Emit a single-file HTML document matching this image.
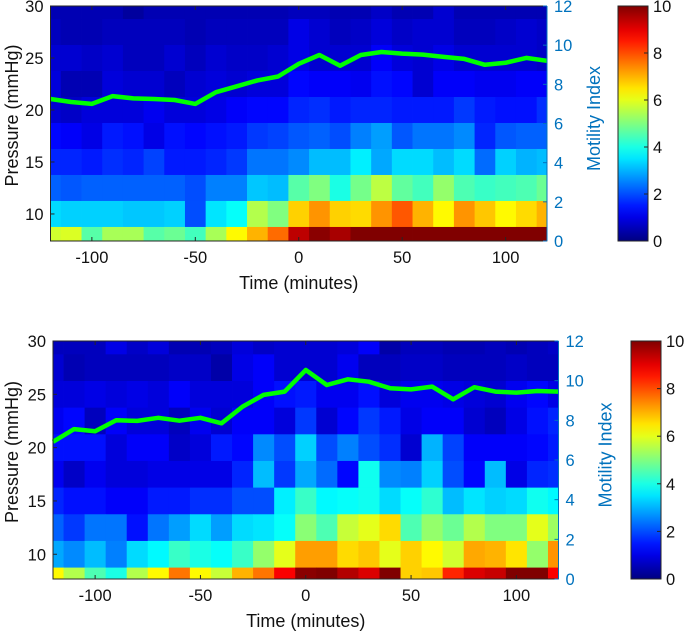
<!DOCTYPE html>
<html><head><meta charset="utf-8">
<style>
html,body{margin:0;padding:0;background:#fff;}
svg{display:block;font-family:"Liberation Sans",Arial,sans-serif;}
</style></head>
<body>
<svg id="fig" width="685" height="632" viewBox="0 0 685 632" xmlns="http://www.w3.org/2000/svg"></svg>
<script>
// ---------- shared axis data ----------
const times = [-120,-110,-100,-90,-80,-70,-60,-50,-40,-30,-20,-10,0,10,20,30,40,50,60,70,80,90,100,110,120];
const pressures = [30,27.5,25,22.5,20,17.5,15,12.5,10,7.5];
const xTickLabels = [-100,-50,0,50,100];
const yTickLabels = [10,15,20,25,30];
const rightTickLabels = [0,2,4,6,8,10,12];
const cbarTickLabels = [0,2,4,6,8,10];

// ---------- top chart data (rows: pressure 30 -> 7.5) ----------
const topRow30  = [0.5,0.5,0.5,0.5,0.3,0.5,0.5,0.5,0.5,0.5,0.5,0.5,0.6,0.6,0.5,0.5,0.7,0.5,0.5,0.8,0.5,0.5,0.5,0.5,0.5];
const topRow275 = [0.6,0.5,0.5,0.6,0.6,0.6,0.6,0.5,0.6,0.6,0.6,0.6,1.0,0.8,0.6,0.7,0.9,0.7,0.8,0.8,0.6,0.6,0.7,0.8,0.7];
const topRow25  = [0.8,0.8,0.7,0.8,0.6,0.6,0.8,0.6,0.8,0.7,0.7,0.8,1.0,0.8,0.8,0.8,1.2,0.9,0.8,1.0,0.8,0.8,0.8,0.8,0.7];
const topRow225 = [0.9,0.5,0.5,0.9,0.8,0.8,0.6,0.8,0.9,0.8,0.9,0.9,1.3,1.2,1.2,1.1,1.4,1.3,0.8,1.2,1.2,1.1,1.1,1.2,1.2];
const topRow20  = [0.8,0.7,0.9,0.9,0.9,1.1,0.9,0.9,1.0,1.2,1.3,1.3,1.6,1.7,1.5,1.6,1.6,1.5,1.5,1.5,1.8,1.5,1.4,1.4,1.7];
const topRow175 = [1.3,1.2,1.0,1.5,1.4,1.0,1.4,1.3,1.4,1.5,1.8,1.9,2.1,2.2,2.0,2.5,2.8,2.1,2.4,2.4,2.6,1.6,2.1,2.2,2.2];
const topRow15  = [1.6,1.6,1.5,1.7,1.6,1.9,1.5,1.5,1.6,1.8,2.4,2.4,2.6,3.1,3.1,3.6,2.9,3.4,3.4,3.1,3.4,2.3,3.3,3.0,3.1];
const topRow125 = [2.2,2.1,2.2,2.2,2.2,2.2,2.2,2.0,2.5,2.5,3.2,3.1,4.6,5.0,4.0,4.9,5.6,4.7,4.4,5.2,4.5,4.3,4.4,4.5,4.8];
const topRow10  = [3.4,3.3,3.3,3.3,3.2,3.2,3.3,2.0,3.5,3.8,5.5,5.0,6.7,7.3,6.7,6.6,7.3,7.9,7.0,6.3,7.3,6.8,6.3,6.6,7.0];
const topRow75  = [5.8,5.9,4.6,5.4,5.4,4.6,4.8,4.4,5.4,6.3,7.0,7.7,9.4,9.9,9.6,10,10,10,10,10,10,10,10,10,10];
const topMotility = [7.25,7.1,7.0,7.4,7.28,7.25,7.2,7.0,7.6,7.9,8.2,8.4,9.05,9.5,8.95,9.5,9.65,9.57,9.52,9.4,9.3,9.0,9.1,9.35,9.2];

// ---------- bottom chart data ----------
const botRow30  = [0.6,0.6,0.6,1.0,0.7,0.9,0.5,0.5,0.6,0.9,0.7,0.8,0.8,0.8,0.9,1.2,0.4,0.6,0.6,0.5,0.5,0.6,0.5,0.6,0.7];
const botRow275 = [0.8,0.5,0.6,0.6,0.6,0.6,0.7,0.7,0.4,1.0,1.2,0.8,0.8,0.8,1.1,0.6,0.6,0.7,0.7,0.6,0.6,0.6,0.7,0.6,0.6];
const botRow25  = [0.9,0.9,1.0,0.9,1.0,0.9,1.2,0.9,0.9,0.9,1.2,1.4,1.5,1.1,1.1,1.4,0.9,1.1,1.1,1.0,0.9,0.8,1.1,1.3,1.0];
const botRow225 = [1.1,1.3,0.6,1.2,0.9,0.9,0.6,1.1,0.8,1.2,1.2,0.9,1.8,0.8,1.3,1.8,1.5,1.0,1.2,1.2,0.8,0.6,1.0,1.4,1.6];
const botRow20  = [1.4,1.4,1.4,0.9,1.2,1.2,0.7,0.9,1.5,1.3,2.6,2.0,3.3,2.0,2.5,2.0,1.7,0.8,3.0,1.9,1.2,1.2,1.2,1.3,1.5];
const botRow175 = [1.1,0.7,1.1,0.9,0.9,1.0,1.0,1.0,1.0,1.6,3.1,1.8,2.9,2.3,1.3,3.9,2.6,2.5,3.3,2.0,1.3,3.1,1.0,1.6,1.7];
const botRow15  = [1.6,1.4,1.4,1.2,1.2,1.5,1.5,1.7,1.7,2.0,2.0,3.6,4.3,3.7,3.8,3.9,3.4,3.8,4.2,3.1,3.5,3.3,3.4,3.9,3.7];
const botRow125 = [2.2,1.8,2.4,2.4,1.4,2.4,2.8,3.4,2.8,3.4,3.5,3.8,5.1,4.5,5.7,6.0,6.6,4.5,5.2,4.8,5.5,5.0,5.0,6.0,5.3];
const botRow10  = [2.9,2.6,3.1,2.5,3.4,3.7,4.3,4.0,3.8,4.3,5.2,6.0,7.2,7.2,6.6,6.8,6.0,6.7,6.3,5.8,7.1,7.0,6.5,5.2,7.3];
const botRow75  = [6.3,5.5,4.5,4.0,5.5,6.3,7.6,6.3,5.7,7.0,7.6,8.8,9.9,10,9.5,9.1,10,6.7,6.8,8.4,9.1,9.3,10,10,8.8];
const botMotility = [6.92,7.56,7.45,8.0,7.97,8.13,7.98,8.13,7.85,8.69,9.28,9.45,10.54,9.78,10.07,9.95,9.62,9.56,9.7,9.06,9.67,9.45,9.4,9.48,9.45];

const NS = "http://www.w3.org/2000/svg";
const svg = document.getElementById('fig');
function mk(tag, attrs, parent){
  const e = document.createElementNS(NS, tag);
  for (const k in attrs) e.setAttribute(k, attrs[k]);
  (parent||svg).appendChild(e);
  return e;
}
function jet(v){
  let t = Math.max(0, Math.min(1, v/10));
  const f = x => Math.max(0, Math.min(1, x));
  const r = f(Math.min(4*t-1.5, -4*t+4.5));
  const g = f(Math.min(4*t-0.5, -4*t+3.5));
  const b = f(Math.min(4*t+0.5, -4*t+2.5));
  return `rgb(${Math.round(r*255)},${Math.round(g*255)},${Math.round(b*255)})`;
}
const BLUE = '#0072BD';
const TF = 16.5, TT = 18;

function drawChart(prefix, rows, motility, L){
  const g = mk('g', {});
  
  
  const xS = t => L.x0 + (t + 120) / 240 * (L.x1 - L.x0);
  const yS = p => L.y0 + (30 - p) / (30 - L.pmin) * (L.y1 - L.y0);
  const mS = m => L.y1 - m / 12 * (L.y1 - L.y0);

  const hm = mk('g', {}, g);
  
  
  rows.forEach((row, ri) => {
    const p = pressures[ri];
    const pTop = Math.min(30, p + 1.25), pBot = Math.max(L.pmin, p - 1.25);
    row.forEach((v, ci) => {
      const t = times[ci];
      const tL = Math.max(-120, t - 5), tR = Math.min(120, t + 5);
      const xa = xS(tL), xb = xS(tR), ya = yS(pTop), yb = yS(pBot);
      const r = mk('rect', {x: xa, y: ya, width: xb - xa + 0.4, height: yb - ya + 0.4, fill: jet(v)}, hm);
      
      
    });
  });

  const pts = motility.map((m, i) => xS(times[i]).toFixed(1) + ',' + mS(m).toFixed(1)).join(' ');
  const ln = mk('polyline', {points: pts, fill: 'none', stroke: '#00ff00', 'stroke-width': 4.5, 'stroke-linejoin': 'round'}, g);
  
  

  const fr = mk('path', {d: `M${L.x1},${L.y0} H${L.x0} V${L.y1} H${L.x1}`, fill: 'none', stroke: '#262626', 'stroke-width': 1}, g);
  
  
  const ra = mk('line', {x1: L.x1, y1: L.y0, x2: L.x1, y2: L.y1, stroke: BLUE, 'stroke-width': 1}, g);
  
  

  xTickLabels.forEach(t => {
    const x = xS(t);
    mk('line', {x1: x, y1: L.y1, x2: x, y2: L.y1 - 4, stroke: '#262626'}, g);
    mk('line', {x1: x, y1: L.y0, x2: x, y2: L.y0 + 4, stroke: '#262626'}, g);
    const tx = mk('text', {x: x, y: L.y1 + 22, 'font-size': TF, 'text-anchor': 'middle', fill: '#111'}, g);
    tx.textContent = t;
    
    
  });
  yTickLabels.forEach(p => {
    const y = yS(p);
    mk('line', {x1: L.x0, y1: y, x2: L.x0 + 4, y2: y, stroke: '#262626'}, g);
    const tx = mk('text', {x: L.x0 - 7, y: y + 6, 'font-size': TF, 'text-anchor': 'end', fill: '#111'}, g);
    tx.textContent = p;
    
    
  });
  rightTickLabels.forEach(m => {
    const y = mS(m);
    mk('line', {x1: L.x1, y1: y, x2: L.x1 - 4, y2: y, stroke: BLUE}, g);
    const tx = mk('text', {x: L.x1 + 7, y: y + 6, 'font-size': TF, fill: BLUE}, g);
    tx.textContent = m;
    
    
  });
  const xt = mk('text', {x: (L.x0 + L.x1) / 2, y: L.y1 + 48, 'font-size': TT, 'text-anchor': 'middle', fill: '#111'}, g);
  xt.textContent = 'Time (minutes)';
  
  
  const yc = (L.y0 + L.y1) / 2;
  const yt = mk('text', {x: 0, y: 0, 'font-size': TT, 'text-anchor': 'middle', fill: '#111', transform: `translate(18,${yc - 8}) rotate(-90)`}, g);
  yt.textContent = 'Pressure (mmHg)';
  
  
  const rt = mk('text', {x: 0, y: 0, 'font-size': TT, 'text-anchor': 'middle', fill: BLUE, transform: `translate(${L.x1 + 53},${yc - 5}) rotate(-90)`}, g);
  rt.textContent = 'Motility Index';
  
  

  const cb = mk('g', {}, g);
  
  
  const gid = prefix + '-jet';
  const defs = mk('defs', {}, cb);
  const lg = mk('linearGradient', {id: gid, x1: 0, y1: 1, x2: 0, y2: 0}, defs);
  for (let i = 0; i <= 20; i++) mk('stop', {offset: i / 20, 'stop-color': jet(i / 2)}, lg);
  mk('rect', {x: L.cx, y: L.y0, width: 30, height: L.y1 - L.y0, fill: `url(#${gid})`, stroke: '#262626', 'stroke-width': 1}, cb);
  cbarTickLabels.forEach(v => {
    const y = L.y1 - v / 10 * (L.y1 - L.y0);
    mk('line', {x1: L.cx + 30, y1: y, x2: L.cx + 26, y2: y, stroke: '#262626'}, cb);
    const tx = mk('text', {x: L.cx + 35, y: y + 6, 'font-size': TF, fill: '#111'}, cb);
    tx.textContent = v;
    
    
  });
}

drawChart('top',
  [topRow30, topRow275, topRow25, topRow225, topRow20, topRow175, topRow15, topRow125, topRow10, topRow75],
  topMotility,
  {x0: 50.5, x1: 547, y0: 6, y1: 241, pmin: 7.4, cx: 618});
drawChart('bottom',
  [botRow30, botRow275, botRow25, botRow225, botRow20, botRow175, botRow15, botRow125, botRow10, botRow75],
  botMotility,
  {x0: 53, x1: 558.5, y0: 341, y1: 579, pmin: 7.68, cx: 631});
</script>
</body></html>
